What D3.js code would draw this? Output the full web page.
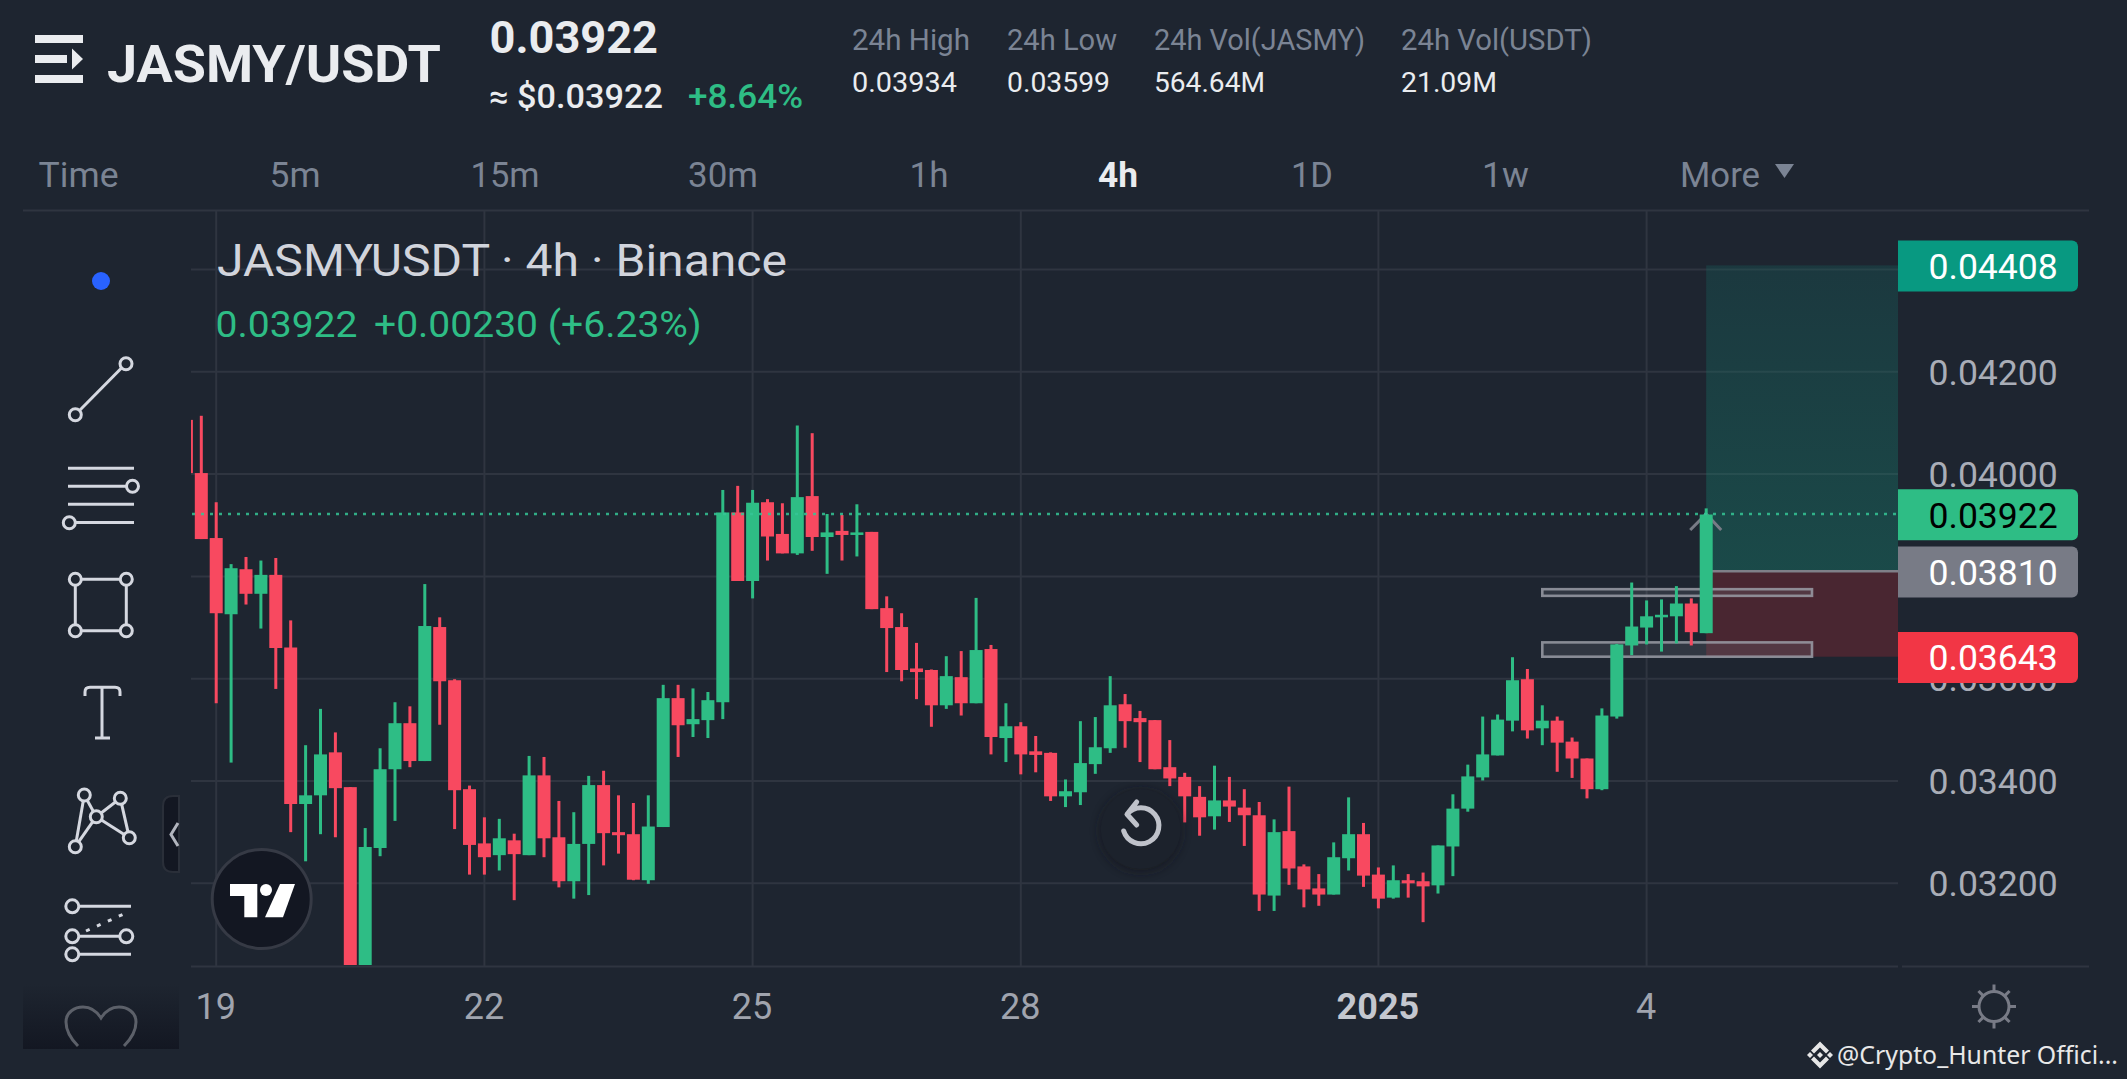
<!DOCTYPE html>
<html>
<head>
<meta charset="utf-8">
<script src="https://cdn.jsdelivr.net/npm/d3@7/dist/d3.min.js"></script>
<style>
html,body{margin:0;padding:0;background:#1e2530;overflow:hidden}
svg{display:block}
text{font-family:Roboto,"Noto Sans",sans-serif}
</style>
</head>
<body>
<svg id="c" width="2127" height="1079"></svg>
<script>
// ---- data: 4h candles, prices in units of 0.00001 USDT ----
const candleIndex = d3.range(-2, 101);
const opens  = [4106,4002,3875,3726,3814,3766,3803,3661,3355,3372,3456,3388,3020,3269,3423,3513,3439,3701,3597,3384,3278,3255,3284,3255,3411,3290,3204,3277,3392,3300,3296,3206,3310,3562,3511,3519,3554,3925,3791,3945,3883,3845,3957,3877,3889,3881,3887,3738,3701,3620,3617,3548,3603,3552,3658,3484,3507,3458,3455,3370,3378,3433,3464,3550,3523,3519,3427,3408,3369,3331,3362,3348,3333,3176,3302,3233,3190,3178,3249,3296,3217,3172,3206,3204,3196,3272,3346,3407,3450,3518,3599,3503,3518,3477,3444,3384,3526,3665,3700,3720,3722,3747,3689];
const closes = [4002,3873,3728,3816,3766,3803,3660,3355,3372,3452,3386,3030,3271,3423,3513,3439,3703,3595,3382,3275,3251,3288,3257,3411,3288,3204,3277,3392,3298,3294,3207,3311,3562,3509,3521,3558,3925,3791,3944,3878,3845,3955,3877,3886,3881,3886,3736,3699,3617,3613,3548,3605,3552,3656,3486,3507,3452,3451,3370,3380,3435,3466,3548,3517,3515,3423,3405,3370,3329,3362,3350,3333,3178,3300,3229,3188,3178,3251,3296,3215,3170,3206,3200,3194,3274,3346,3409,3452,3520,3597,3499,3518,3475,3444,3384,3528,3667,3702,3722,3725,3747,3691,3921];
const highs  = [4106,4114,3945,3824,3838,3831,3836,3714,3470,3541,3495,3388,3308,3464,3554,3546,3785,3720,3599,3391,3329,3326,3297,3449,3447,3361,3339,3410,3420,3372,3357,3372,3588,3588,3581,3574,3969,3977,3969,3951,3943,4095,4080,3922,3920,3941,3887,3761,3728,3670,3618,3644,3654,3758,3666,3552,3515,3488,3456,3403,3517,3525,3605,3570,3537,3519,3480,3416,3390,3430,3408,3384,3359,3325,3389,3237,3218,3280,3368,3318,3231,3235,3218,3221,3274,3374,3432,3526,3530,3642,3619,3548,3526,3485,3444,3542,3668,3788,3753,3755,3781,3757,3933];
const lows   = [4002,3873,3552,3436,3745,3698,3580,3300,3243,3296,3290,3020,3020,3253,3322,3427,3439,3510,3306,3217,3217,3225,3167,3255,3251,3192,3170,3177,3235,3258,3206,3199,3310,3447,3486,3484,3521,3791,3757,3831,3845,3842,3850,3805,3831,3839,3736,3613,3595,3560,3506,3541,3528,3552,3452,3437,3413,3417,3361,3349,3353,3414,3455,3465,3437,3423,3390,3319,3293,3305,3320,3273,3146,3146,3197,3153,3156,3178,3225,3193,3151,3170,3172,3124,3180,3214,3340,3401,3450,3497,3483,3470,3418,3406,3366,3382,3522,3646,3667,3653,3669,3665,3689];

const priceTicks = [4400,4200,4000,3800,3600,3400,3200];
const priceLabelTicks = [4200,4000,3600,3400,3200];
const dayTickIndex = [0,18,36,54,78,96];
const dayTickLabels = ["19","22","25","28","2025","4"];
const lastPrice = 3922, targetPrice = 4408, entryPrice = 3810, stopPrice = 3643;
const positionStartIndex = 100;
const zoneStartIndex = 89, zoneEndIndex = 107.1;
const zoneBands = [[3775,3762],[3671,3643]];
const priceTags = [
  {p:targetPrice, t:"0.04408", bg:"#089981", fg:"#ffffff"},
  {p:lastPrice,   t:"0.03922", bg:"#2ebd85", fg:"#000000"},
  {p:entryPrice,  t:"0.03810", bg:"#787b86", fg:"#ffffff"},
  {p:stopPrice,   t:"0.03643", bg:"#f23645", fg:"#ffffff"}
];
const headerStats = [
  {label:"24h High", value:"0.03934", x:853, lw:116, vw:103},
  {label:"24h Low", value:"0.03599", x:1008, lw:108, vw:101},
  {label:"24h Vol(JASMY)", value:"564.64M", x:1155, lw:209, vw:109},
  {label:"24h Vol(USDT)", value:"21.09M", x:1402, lw:189, vw:94}
];
const timeframes = [
  {t:"Time",x:39.6,w:78},{t:"5m",x:270.5,w:49},{t:"15m",x:471.5,w:67},{t:"30m",x:689,w:68},
  {t:"1h",x:910.6,w:37},{t:"4h",x:1099,w:38,on:true},{t:"1D",x:1292,w:40},{t:"1w",x:1483,w:45},{t:"More",x:1681,w:78}
];

// ---- scales ----
const UP="#2ebd85", DOWN="#f84960", GRID="#2f3540", BG="#1e2530";
const plot={l:191,r:1898,t:210,b:966};
const x=d3.scaleLinear().domain([0,96]).range([216.2,1646.6]);
const y=d3.scaleLinear().domain([3200,4200]).range([883.3,371.8]);
const bodyW=13, wickW=3;

const svg=d3.select("#c");
const defs=svg.append("defs");
defs.append("clipPath").attr("id","plotClip").append("rect")
  .attr("x",plot.l).attr("y",plot.t).attr("width",plot.r-plot.l).attr("height",plot.b-plot.t-1);
const g1=defs.append("linearGradient").attr("id","gProfit").attr("x1",0).attr("x2",0).attr("y1",0).attr("y2",1);
g1.append("stop").attr("offset",0).attr("stop-color","#1b3a40");
g1.append("stop").attr("offset",1).attr("stop-color","#1a4d4b");
const g2=defs.append("linearGradient").attr("id","gHeart").attr("x1",0).attr("x2",0).attr("y1",0).attr("y2",1);
g2.append("stop").attr("offset",0).attr("stop-color","#1e2530");
g2.append("stop").attr("offset",1).attr("stop-color","#131722");
const shadow=defs.append("filter").attr("id","soft").attr("x","-40%").attr("y","-40%").attr("width","180%").attr("height","180%");
shadow.append("feGaussianBlur").attr("stdDeviation",4);

svg.append("rect").attr("width",2127).attr("height",1079).attr("fill",BG);

function txt(parent,s,px,py,size,weight,color,w,anchor){
  const t=parent.append("text").attr("x",px-1).attr("y",py).attr("font-size",size)
    .attr("font-weight",weight).attr("fill",color).text(s);
  if(w){t.attr("textLength",w+2).attr("lengthAdjust","spacingAndGlyphs");}
  if(anchor)t.attr("text-anchor",anchor);
  return t;
}

// ---- grid & axis frame ----
const grid=svg.append("g");
grid.selectAll("line.h").data(priceTicks).join("line").attr("class","h")
  .attr("x1",plot.l).attr("x2",plot.r).attr("y1",d=>y(d)).attr("y2",d=>y(d))
  .attr("stroke",GRID).attr("stroke-width",2);
grid.selectAll("line.v").data(dayTickIndex).join("line").attr("class","v")
  .attr("x1",d=>x(d)).attr("x2",d=>x(d)).attr("y1",plot.t).attr("y2",plot.b)
  .attr("stroke",GRID).attr("stroke-width",2);
grid.append("line").attr("x1",23).attr("x2",2089).attr("y1",210.5).attr("y2",210.5).attr("stroke",GRID).attr("stroke-width",2);
grid.append("line").attr("x1",plot.l).attr("x2",plot.r).attr("y1",966.5).attr("y2",966.5).attr("stroke",GRID).attr("stroke-width",2);
grid.append("line").attr("x1",1902).attr("x2",2089).attr("y1",966.5).attr("y2",966.5).attr("stroke",GRID).attr("stroke-width",2);

// ---- long position tool ----
const pos=svg.append("g");
pos.append("rect").attr("x",x(positionStartIndex)).attr("width",plot.r-x(positionStartIndex))
  .attr("y",y(targetPrice)).attr("height",y(entryPrice)-y(targetPrice)).attr("fill","url(#gProfit)").attr("opacity",.92);
pos.append("rect").attr("x",x(positionStartIndex)).attr("width",plot.r-x(positionStartIndex))
  .attr("y",y(entryPrice)).attr("height",y(stopPrice)-y(entryPrice)).attr("fill","#4b2731").attr("opacity",.96);
// grid shows faintly through the profit zone
pos.selectAll("line.t").data(priceTicks.filter(d=>d>=entryPrice)).join("line").attr("class","t")
  .attr("x1",x(positionStartIndex)).attr("x2",plot.r).attr("y1",d=>y(d)).attr("y2",d=>y(d))
  .attr("stroke","#ffffff").attr("stroke-opacity",.05).attr("stroke-width",2);
pos.append("line").attr("x1",x(positionStartIndex)).attr("x2",plot.r).attr("y1",y(entryPrice)).attr("y2",y(entryPrice))
  .attr("stroke","#7f7f88").attr("stroke-width",2.5);

// ---- zone boxes ----
svg.append("g").selectAll("rect").data(zoneBands).join("rect")
  .attr("x",x(zoneStartIndex)).attr("width",x(zoneEndIndex)-x(zoneStartIndex))
  .attr("y",d=>y(d[0])).attr("height",d=>y(d[1])-y(d[0]))
  .attr("fill","#787b86").attr("fill-opacity",.22).attr("stroke","#9a9ca6").attr("stroke-opacity",.85).attr("stroke-width",2.6);

// ---- entry arrow ----
svg.append("path").attr("fill","none").attr("stroke","#787b86").attr("stroke-width",3)
  .attr("d",d3.line()([[x(positionStartIndex)-16,530],[x(positionStartIndex),y(lastPrice)],[x(positionStartIndex)+15,530]]));

// ---- candles ----
const candles=candleIndex.map((i,k)=>({i,o:opens[k],h:highs[k],l:lows[k],c:closes[k]}));
const cg=svg.append("g").attr("clip-path","url(#plotClip)");
const col=d=>d.c>=d.o?UP:DOWN;
cg.selectAll("line.w").data(candles).join("line").attr("class","w")
  .attr("x1",d=>x(d.i)).attr("x2",d=>x(d.i)).attr("y1",d=>y(d.h)).attr("y2",d=>y(d.l))
  .attr("stroke",col).attr("stroke-width",wickW);
cg.selectAll("rect.b").data(candles).join("rect").attr("class","b")
  .attr("x",d=>x(d.i)-bodyW/2).attr("width",bodyW)
  .attr("y",d=>y(Math.max(d.o,d.c))).attr("height",d=>Math.max(2.5,Math.abs(y(d.o)-y(d.c))))
  .attr("fill",col);

// ---- last price line ----
svg.append("line").attr("x1",192).attr("x2",plot.r).attr("y1",y(lastPrice)).attr("y2",y(lastPrice))
  .attr("stroke","#35c695").attr("stroke-opacity",.85).attr("stroke-width",2.6).attr("stroke-dasharray","3 6");

// ---- axes ----
const axisY=d3.axisRight(y).tickValues(priceLabelTicks).tickSize(0).tickPadding(0)
  .tickFormat(d=>(d/100000).toFixed(5));
const ay=svg.append("g").attr("transform","translate(1928.5,0)").call(axisY);
ay.select(".domain").remove();
ay.selectAll("text").attr("font-family","Roboto").attr("font-size",35.6).attr("fill","#a9adb7").attr("text-anchor","start").attr("dy","0.345em");

const axisX=d3.axisBottom(x).tickValues(dayTickIndex).tickSize(0).tickPadding(0)
  .tickFormat(d=>dayTickLabels[dayTickIndex.indexOf(d)]);
const ax=svg.append("g").attr("transform","translate(-1,993.7)").call(axisX);
ax.select(".domain").remove();
ax.selectAll("text").attr("font-family","Roboto").attr("font-size",36).attr("fill","#a0a4ae").attr("dy","0.71em")
  .attr("font-weight",d=>d===78?700:400).attr("fill",d=>d===78?"#c4c7cf":"#a0a4ae");

// ---- price tags ----
const tags=svg.append("g").selectAll("g").data(priceTags).join("g").attr("transform",d=>`translate(1898,${y(d.p)+0.7})`);
tags.append("path").attr("fill",d=>d.bg).attr("d","M0,-25.5H174a6,6 0 0 1 6,6V19.5a6,6 0 0 1 -6,6H0Z");
tags.append("text").attr("x",30.5).attr("y",0).attr("dy","0.36em").attr("font-size",35.6).attr("fill",d=>d.fg).text(d=>d.t);

// ---- chart legend ----
txt(svg,"JASMYUSDT · 4h · Binance",218,276,44,400,"#d1d4dc",568);
txt(svg,"0.03922",216.5,337,37,400,UP,140);
txt(svg,"+0.00230 (+6.23%)",375,337,37,400,UP,325.5);

// ---- header ----
const bar=(bx,by,bw,bh)=>svg.append("rect").attr("x",bx).attr("y",by).attr("width",bw).attr("height",bh).attr("fill","#eaecef");
bar(35,35,48,8);bar(35,55,32,8);bar(35,75,48,8);
svg.append("path").attr("fill","#eaecef").attr("d","M72,48.5L83,59L72,69.5Z");
txt(svg,"JASMY/USDT",108,82,52,700,"#eaecef",332);
txt(svg,"0.03922",490.5,53,45,700,"#eaecef",166.5);
txt(svg,"≈ $0.03922",490,108,33,500,"#eaecef",172);
txt(svg,"+8.64%",689,108,33,500,UP,113);
headerStats.forEach(d=>{
  txt(svg,d.label,d.x,50,30,400,"#7b8494",d.lw);
  txt(svg,d.value,d.x,92,27,400,"#eaecef",d.vw);
});
timeframes.forEach(d=>txt(svg,d.t,d.x,186.7,35,d.on?700:400,d.on?"#eaecef":"#7b8494",d.w));
svg.append("path").attr("fill","#7b8494").attr("d","M1775,164H1794L1784.5,178Z");

// ---- left toolbar ----
const ICON="#d5d8e0";
const tb=svg.append("g").attr("fill","none").attr("stroke",ICON).attr("stroke-width",3);
const seg=(a,b,c,e)=>tb.append("line").attr("x1",a).attr("y1",b).attr("x2",c).attr("y2",e);
const dot=(cx,cy,r)=>tb.append("circle").attr("cx",cx).attr("cy",cy).attr("r",r||6);
svg.append("circle").attr("cx",101).attr("cy",281).attr("r",9).attr("fill","#2962ff");
seg(80,410,121.5,368);dot(126,363.7);dot(75.3,414.7);
seg(68,468.3,134,468.3);seg(68,486.3,126,486.3);dot(132.5,486.3);seg(68,504.3,134,504.3);seg(75,522.5,134,522.5);dot(69.3,522.7);
seg(75.3,585,75.3,625);seg(126.3,585,126.3,625);seg(81,579.3,120,579.3);seg(81,630.7,120,630.7);
dot(75.3,579.3);dot(126.3,579.3);dot(75.3,630.7);dot(126.3,630.7);
tb.append("path").attr("d","M85,696V692Q85,687.3 90,687.3H115Q120,687.3 120,692V696");
seg(102,687.3,102,738);seg(95,738,110,738);
seg(75.3,846.7,84.3,795);seg(84.3,795,96.3,816.7);seg(75.3,846.7,96.3,816.7);seg(96.3,816.7,120.3,798.3);seg(96.3,816.7,129.3,837.7);seg(120.3,798.3,129.3,837.7);
[[84.3,795],[120.3,798.3],[96.3,816.7],[129.3,837.7],[75.3,846.7]].forEach(p=>dot(p[0],p[1]).attr("fill",BG));
seg(79,906.3,131,906.3);dot(72.3,906.3,6.5);
seg(79,936.3,120,936.3);dot(72.3,936.3,6.5);dot(126.3,936.3,6.5);
seg(79,954.3,131,954.3);dot(72.3,954.3,6.5);
seg(86,931,126,913).attr("stroke-dasharray","4 8");
svg.append("rect").attr("x",23).attr("y",984).attr("width",156).attr("height",65).attr("fill","url(#gHeart)");
svg.append("path").attr("fill","none").attr("stroke","#5c6069").attr("stroke-width",3)
  .attr("d","M78,1046C70,1038 66,1030 66,1022C66,1012 75,1007 83,1007C90,1007 96,1010 101,1018C106,1010 112,1007 119,1007C127,1007 136,1012 136,1022C136,1030 132,1038 124,1046");
svg.append("path").attr("fill","#131722").attr("stroke","#2a2f39").attr("stroke-width",2).attr("d","M179,796H173Q163,796 163,806V862Q163,872 173,872H179Z");
svg.append("path").attr("fill","none").attr("stroke","#b2b5be").attr("stroke-width",3).attr("d","M178,823L171,834.5L178,846");

// ---- TradingView logo ----
svg.append("circle").attr("cx",261.7).attr("cy",899).attr("r",49.5).attr("fill","#131722").attr("stroke","#363a45").attr("stroke-width",3);
svg.append("path").attr("fill","#ffffff").attr("d","M230,884H257.3V917.3H244.3V896H230Z");
svg.append("circle").attr("cx",266).attr("cy",890).attr("r",6).attr("fill","#ffffff");
svg.append("path").attr("fill","#ffffff").attr("d","M280,884H295L283,917.3H265Z");

// ---- reset button ----
svg.append("circle").attr("cx",1140.7).attr("cy",831).attr("r",42).attr("fill","#14181f").attr("opacity",.55).attr("filter","url(#soft)");
svg.append("circle").attr("cx",1140.7).attr("cy",829).attr("r",40).attr("fill","#1c222c");
svg.append("path").attr("fill","none").attr("stroke","#bfc2ca").attr("stroke-width",5).attr("stroke-linecap","round").attr("stroke-linejoin","round")
  .attr("d","M1136.7,802L1127,814.3L1136.7,825M1127,814.3A18,18 0 1 1 1123.7,831");

// ---- settings sun ----
const sun=svg.append("g").attr("transform","translate(1994,1006.5)").attr("fill","none").attr("stroke","#787b86").attr("stroke-width",3);
sun.append("circle").attr("r",15);
d3.range(8).forEach(k=>{const a=k*Math.PI/4;
  sun.append("line").attr("x1",15*Math.cos(a)).attr("y1",15*Math.sin(a)).attr("x2",22*Math.cos(a)).attr("y2",22*Math.sin(a));});

// ---- watermark ----
svg.append("g").attr("fill","#e6e6e6").attr("transform","translate(1820,1055)").selectAll("path")
  .data(["M0,-13.5L9,-4.5L6,-1.5L0,-7.5L-6,-1.5L-9,-4.5Z","M0,13.5L9,4.5L6,1.5L0,7.5L-6,1.5L-9,4.5Z","M-13,0L-10,-3L-7,0L-10,3Z","M13,0L10,-3L7,0L10,3Z","M0,-3L3,0L0,3L-3,0Z"])
  .join("path").attr("d",d=>d);
svg.append("text").attr("x",1837).attr("y",1064).attr("font-size",24.5).attr("fill","#e8e8e8")
  .attr("style","font-family:'Noto Sans'").attr("textLength",281).attr("lengthAdjust","spacingAndGlyphs").text("@Crypto_Hunter Offici...");
</script>
</body>
</html>
